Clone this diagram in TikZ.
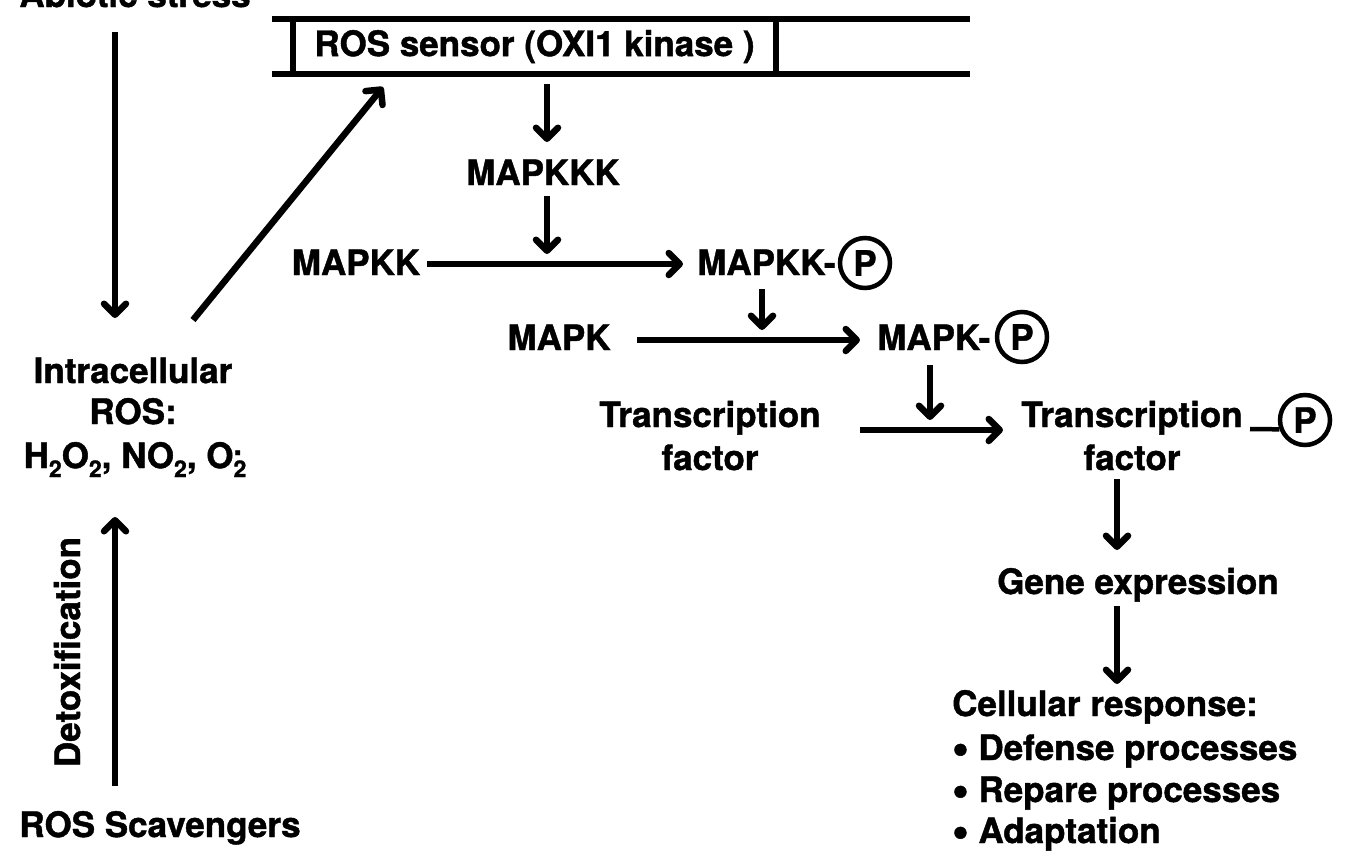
\documentclass[tikz,border=0pt]{standalone}
\usepackage{fontspec}
\setmainfont{TeX Gyre Heros}[BoldFeatures={FakeBold=1.2}]
\usetikzlibrary{arrows.meta}
\newcommand\mysub[1]{\raisebox{-9pt}{\fontsize{23}{23}\selectfont #1}}
\newcommand\mysup[1]{\raisebox{13pt}{\fontsize{30}{30}\selectfont #1}}
\newcommand\mybul{\smash{\raisebox{-4pt}{\scalebox{1.35}{\textbullet}}}}
\begin{document}
\begin{tikzpicture}[x=1pt,y=-1pt,
  lbl/.style={font=\fontsize{35}{43}\selectfont\bfseries, inner sep=0pt, anchor=base},
  lblw/.style={lbl, anchor=base west},
  arr/.style={line width=6.5pt, -{Straight Barb[length=11pt,width=22pt,round]}},
  pcirc/.style={circle, draw, line width=4.5pt, minimum size=50pt, inner sep=0pt, font=\fontsize{35}{43}\selectfont\bfseries},
  memb/.style={line width=6pt},
  sensorbox/.style={draw, line width=6pt, minimum width=483pt, minimum height=55pt, inner sep=0pt, font=\fontsize{35}{43}\selectfont\bfseries}]
\useasboundingbox (0,0) rectangle (1360,863);
\fill[white] (0,0) rectangle (1360,863);

% membrane
\draw[memb] (272,19) -- (970,19);
\draw[memb] (272,74) -- (970,74);
\node[sensorbox] (sensor) at (534.5,46.5) {ROS sensor (OXI1 kinase )};

% left column
\node[lbl] (abiotic) at (135,7) {Abiotic stress};
\node[lbl] (intra1) at (133,383) {Intracellular};
\node[lbl] (intra2) at (133,424) {ROS:};
\node[lbl] (intra3) at (135,468) {H\mysub{2}O\mysub{2}, NO\mysub{2}, O\rlap{\mysup{.}}\mysub{2}};
\node[lbl] (scav) at (160,837) {ROS Scavengers};
\node[lbl, rotate=90] (detox) at (80,652) {Detoxification};

% cascade
\node[lbl] (mapkkk) at (543,185) {MAPKKK};
\node[lbl] (mapkk) at (356,275) {MAPKK};
\node[lblw] (mapkkp) at (697,275) {MAPKK-};
\node[pcirc] (p1) at (865,263) {P};
\node[lbl] (mapk) at (559,350) {MAPK};
\node[lblw] (mapkp) at (877,350) {MAPK-};
\node[pcirc] (p2) at (1022,337) {P};
\node[lbl] (tf1a) at (710,427) {Transcription};
\node[lbl] (tf1b) at (710,470) {factor};
\node[lbl] (tf2a) at (1132,427) {Transcription};
\node[lbl] (tf2b) at (1132,470) {factor};
\node[pcirc] (p3) at (1305,420) {P};
\coordinate (tfdash) at (1250,429);
\draw[line width=4.5pt] (tfdash) -- (p3.200);
\node[lbl] (gene) at (1138,594) {Gene expression};
\node[lblw] (cell1) at (952,716) {Cellular response:};
\node[lblw] (cell2) at (952,760) {\mybul\ Defense processes};
\node[lblw] (cell3) at (952,802) {\mybul\ Repare processes};
\node[lblw] (cell4) at (952,843) {\mybul\ Adaptation};

% arrow coordinates
\coordinate (a1s) at (115,32);   \coordinate (a1e) at (115,318);
\coordinate (a2s) at (115,786);  \coordinate (a2e) at (115,517);
\coordinate (a3s) at (193,320);  \coordinate (a3e) at (383,87);
\coordinate (a4s) at (547,84);   \coordinate (a4e) at (547,142);
\coordinate (a5s) at (547,196);  \coordinate (a5e) at (547,254);
\coordinate (a6s) at (427,264);  \coordinate (a6e) at (683,264);
\coordinate (a7s) at (762,289);  \coordinate (a7e) at (762,330);
\coordinate (a8s) at (637,340);  \coordinate (a8e) at (860,340);
\coordinate (a9s) at (930,365);  \coordinate (a9e) at (930,420);
\coordinate (a10s) at (860,430); \coordinate (a10e) at (1003,430);
\coordinate (a11s) at (1117,479); \coordinate (a11e) at (1117,550);
\coordinate (a12s) at (1117,606); \coordinate (a12e) at (1117,684);

\draw[arr] (a1s) -- (a1e);
\draw[arr] (a2s) -- (a2e);
\draw[arr] (a3s) -- (a3e);
\draw[arr] (a4s) -- (a4e);
\draw[arr] (a5s) -- (a5e);
\draw[arr] (a6s) -- (a6e);
\draw[arr] (a7s) -- (a7e);
\draw[arr] (a8s) -- (a8e);
\draw[arr] (a9s) -- (a9e);
\draw[arr] (a10s) -- (a10e);
\draw[arr] (a11s) -- (a11e);
\draw[arr] (a12s) -- (a12e);
\end{tikzpicture}
\end{document}
